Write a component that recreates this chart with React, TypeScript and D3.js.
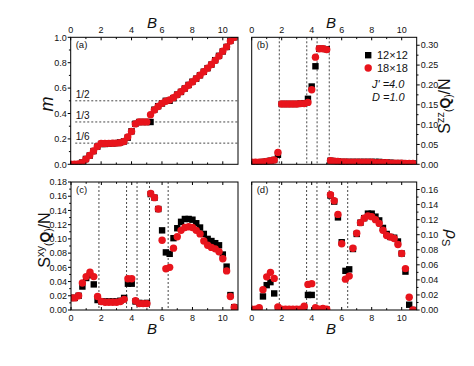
import React from "react";
import * as d3 from "d3";

const FONT = "Arial, 'Liberation Sans', Helvetica, sans-serif";
const RED = "#e8141c";

// Magnetic field grid (B)
const B_VALUES = [0, 0.25, 0.5, 0.75, 1.0, 1.25, 1.5, 1.75, 2.0, 2.25, 2.5, 2.75, 3.0, 3.25, 3.5, 3.75, 4.0, 4.25, 4.5, 4.75, 5.0, 5.25, 5.5, 5.75, 6.0, 6.25, 6.5, 6.75, 7.0, 7.25, 7.5, 7.75, 8.0, 8.25, 8.5, 8.75, 9.0, 9.25, 9.5, 9.75, 10.0, 10.25, 10.5, 10.75];

// (a) magnetization m
const M_12 = [0, 0, 0, 0.014, 0.042, 0.069, 0.104, 0.139, 0.16, 0.16, 0.163, 0.165, 0.167, 0.172, 0.18, 0.21, 0.26, 0.319, 0.333, 0.333, 0.333, 0.333, 0.43, 0.458, 0.479, 0.5, 0.5, 0.521, 0.549, 0.57, 0.597, 0.625, 0.65, 0.674, 0.701, 0.729, 0.757, 0.785, 0.82, 0.854, 0.889, 0.924, 0.972, 1.0];
const M_18 = [0, 0, 0.003, 0.012, 0.04, 0.07, 0.105, 0.14, 0.164, 0.164, 0.165, 0.166, 0.167, 0.17, 0.18, 0.215, 0.258, 0.318, 0.333, 0.334, 0.334, 0.39, 0.428, 0.455, 0.48, 0.497, 0.506, 0.525, 0.548, 0.572, 0.597, 0.623, 0.649, 0.675, 0.702, 0.729, 0.757, 0.786, 0.818, 0.852, 0.89, 0.925, 0.97, 1.0];
const M_LEVELS = [1 / 2, 1 / 3, 1 / 6];
const M_LEVEL_LABELS = ["1/2", "1/3", "1/6"];

// (b) Szz(Q)/N
const SZZ_12 = [0.005, 0.005, 0.005, 0.006, 0.007, 0.009, 0.011, 0.024, 0.152, 0.152, 0.152, 0.152, 0.152, 0.153, 0.154, 0.165, 0.196, 0.247, 0.291, 0.291, 0.29, 0.009, 0.008, 0.007, 0.006, 0.006, 0.006, 0.006, 0.006, 0.006, 0.006, 0.006, 0.006, 0.006, 0.006, 0.005, 0.004, 0.004, 0.003, 0.003, 0.003, 0.002, 0.002, 0.002];
const SZZ_18 = [0.005, 0.005, 0.005, 0.006, 0.007, 0.009, 0.011, 0.03, 0.152, 0.152, 0.152, 0.152, 0.152, 0.153, 0.153, 0.156, 0.188, 0.27, 0.291, 0.291, 0.289, 0.009, 0.008, 0.007, 0.006, 0.006, 0.005, 0.005, 0.005, 0.005, 0.005, 0.005, 0.005, 0.004, 0.004, 0.004, 0.004, 0.003, 0.003, 0.003, 0.003, 0.002, 0.002, 0.002];

// (c) Sxy(Q)/N
const SXY_12 = [0.017, 0.017, 0.02, 0.033, 0.045, 0.049, 0.036, 0.014, 0.012, 0.012, 0.012, 0.012, 0.012, 0.013, 0.017, 0.037, 0.037, 0.012, 0.01, 0.009, 0.01, 0.163, 0.158, 0.142, 0.112, 0.081, 0.079, 0.101, 0.115, 0.124, 0.128, 0.128, 0.127, 0.122, 0.116, 0.107, 0.1, 0.097, 0.094, 0.091, 0.078, 0.061, 0.021, 0.004];
const SXY_18 = [0.017, 0.017, 0.02, 0.038, 0.047, 0.053, 0.047, 0.019, 0.012, 0.011, 0.011, 0.011, 0.011, 0.012, 0.015, 0.044, 0.044, 0.013, 0.009, 0.009, 0.009, 0.164, 0.158, 0.142, 0.098, 0.058, 0.06, 0.087, 0.103, 0.112, 0.116, 0.117, 0.116, 0.112, 0.107, 0.097, 0.091, 0.088, 0.086, 0.082, 0.072, 0.055, 0.019, 0.004];

// (d) rho_s
const RHO_12 = [0, 0, 0, 0.018, 0.033, 0.037, 0.022, 0.002, 0, 0, 0, 0, 0, 0, 0, 0.02, 0.02, 0.001, 0, 0, 0, 0.152, 0.144, 0.123, 0.09, 0.052, 0.054, 0.081, 0.101, 0.116, 0.122, 0.128, 0.128, 0.124, 0.119, 0.109, 0.101, 0.097, 0.096, 0.091, 0.075, 0.051, 0.007, 0];
const RHO_18 = [0.001, 0.001, 0.003, 0.027, 0.044, 0.05, 0.042, 0.004, 0.001, 0.001, 0.001, 0.001, 0.001, 0.001, 0.005, 0.034, 0.035, 0.003, 0.001, 0.002, 0.001, 0.153, 0.145, 0.127, 0.088, 0.041, 0.045, 0.082, 0.102, 0.116, 0.122, 0.125, 0.124, 0.12, 0.115, 0.106, 0.099, 0.097, 0.095, 0.087, 0.075, 0.055, 0.017, 0];

// Transition fields (dotted vertical lines)
const VLINES_B = [1.84, 3.67, 4.36, 5.17];
const VLINES_CD = [1.84, 3.66, 4.35, 5.17, 6.4];

const X_TICKS = [0, 2, 4, 6, 8, 10];
const X_MINOR = [1, 3, 5, 7, 9];
const LEGEND_LABELS = ["12×12", "18×18"];

type Box = { x0: number; x1: number; y0: number; y1: number };

type PanelProps = {
  id: string;
  box: Box;
  yMax: number;
  yTicks: number[];
  yMinor: number[];
  yFmt: string;
  ySide: "left" | "right";
  xSide: "top" | "bottom";
  vlines?: number[];
  hlines?: number[];
  hlineLabels?: string[];
  black: number[];
  red: number[];
  letter: string;
};

function Panel(p: PanelProps) {
  const { box } = p;
  const x = d3.scaleLinear().domain([0, 11]).range([box.x0, box.x1]);
  const y = d3.scaleLinear().domain([0, p.yMax]).range([box.y1, box.y0]);
  const fmt = d3.format(p.yFmt);
  const yAxisX = p.ySide === "left" ? box.x0 : box.x1;
  const dir = p.ySide === "left" ? -1 : 1;
  return (
    <g>
      <defs>
        <clipPath id={p.id}>
          <rect x={box.x0} y={box.y0} width={box.x1 - box.x0} height={box.y1 - box.y0} />
        </clipPath>
      </defs>
      {(p.vlines || []).map((v, i) => (
        <line key={"v" + i} x1={x(v)} x2={x(v)} y1={box.y0} y2={box.y1} stroke="#333" strokeWidth={0.9} strokeDasharray="2,2" />
      ))}
      {(p.hlines || []).map((v, i) => (
        <g key={"h" + i}>
          <line x1={x(0.3)} x2={box.x1} y1={y(v)} y2={y(v)} stroke="#333" strokeWidth={0.9} strokeDasharray="2,2" />
          <text x={box.x0 + 5} y={y(v) - 3} fontSize={10} fontFamily={FONT} fill="#111">
            {p.hlineLabels ? p.hlineLabels[i] : ""}
          </text>
        </g>
      ))}
      <g clipPath={`url(#${p.id})`}>
        {p.black.map((v, i) => (
          <rect key={"k" + i} x={x(B_VALUES[i]) - 3.2} y={y(v) - 3.2} width={6.4} height={6.4} fill="#000" />
        ))}
        {p.red.map((v, i) => (
          <circle key={"r" + i} cx={x(B_VALUES[i])} cy={y(v)} r={3.7} fill={RED} />
        ))}
      </g>
      <rect x={box.x0} y={box.y0} width={box.x1 - box.x0} height={box.y1 - box.y0} fill="none" stroke="#000" strokeWidth={1} />
      {X_TICKS.map((t) => (
        <g key={"xt" + t}>
          <line x1={x(t)} x2={x(t)} y1={box.y0} y2={box.y0 + 3} stroke="#000" />
          <line x1={x(t)} x2={x(t)} y1={box.y1} y2={box.y1 - 3} stroke="#000" />
        </g>
      ))}
      {X_MINOR.map((t) => (
        <g key={"xm" + t}>
          <line x1={x(t)} x2={x(t)} y1={box.y0} y2={box.y0 + 1.8} stroke="#000" />
          <line x1={x(t)} x2={x(t)} y1={box.y1} y2={box.y1 - 1.8} stroke="#000" />
        </g>
      ))}
      {X_TICKS.map((t) => (
        <text
          key={"xl" + t}
          x={x(t)}
          y={p.xSide === "top" ? box.y0 - 4.5 : box.y1 + 10.5}
          textAnchor="middle"
          fontSize={9}
          fontFamily={FONT}
          fill="#111"
        >
          {t}
        </text>
      ))}
      {p.yTicks.map((t) => (
        <g key={"yt" + t}>
          <line x1={yAxisX} x2={yAxisX + dir * 3} y1={y(t)} y2={y(t)} stroke="#000" />
          <text
            x={yAxisX + dir * 4}
            y={y(t) + 3.2}
            textAnchor={p.ySide === "left" ? "end" : "start"}
            fontSize={9}
            fontFamily={FONT}
            fill="#111"
          >
            {fmt(t)}
          </text>
        </g>
      ))}
      {p.yMinor.map((t, i) => (
        <line key={"ym" + i} x1={yAxisX} x2={yAxisX + dir * 1.8} y1={y(t)} y2={y(t)} stroke="#000" />
      ))}
      <text x={box.x0 + 5} y={box.y0 + 11} fontSize={9.5} fontFamily={FONT} fill="#111">
        {p.letter}
      </text>
    </g>
  );
}

const PA: Box = { x0: 70.7, x1: 238, y0: 37.3, y1: 164.3 };
const PB: Box = { x0: 251.7, x1: 416.7, y0: 37.3, y1: 164.3 };
const PC: Box = { x0: 71, x1: 238, y0: 182, y1: 310 };
const PD: Box = { x0: 251.7, x1: 416.7, y0: 182, y1: 310 };

const A_TICKS = [0, 0.2, 0.4, 0.6, 0.8, 1.0];
const A_MINOR = [0.1, 0.3, 0.5, 0.7, 0.9];
const B_TICKS = [0, 0.05, 0.1, 0.15, 0.2, 0.25, 0.3];
const B_MINOR = [0.025, 0.075, 0.125, 0.175, 0.225, 0.275];
const C_TICKS = [0, 0.02, 0.04, 0.06, 0.08, 0.1, 0.12, 0.14, 0.16, 0.18];
const C_MINOR = [0.01, 0.03, 0.05, 0.07, 0.09, 0.11, 0.13, 0.15, 0.17];
const D_TICKS = [0, 0.02, 0.04, 0.06, 0.08, 0.1, 0.12, 0.14, 0.16];
const D_MINOR = [0.01, 0.03, 0.05, 0.07, 0.09, 0.11, 0.13, 0.15];

export default function App() {
  return (
    <svg width={474} height={366} style={{ position: "absolute", left: 0, top: 0, background: "#fff" }}>
      <rect x={0} y={0} width={474} height={366} fill="#fff" />
      <Panel id="ca" box={PA} yMax={1.0} yTicks={A_TICKS} yMinor={A_MINOR} yFmt=".1f" ySide="left" xSide="top"
        hlines={M_LEVELS} hlineLabels={M_LEVEL_LABELS} black={M_12} red={M_18} letter="(a)" />
      <Panel id="cb" box={PB} yMax={0.32} yTicks={B_TICKS} yMinor={B_MINOR} yFmt=".2f" ySide="right" xSide="top"
        vlines={VLINES_B} black={SZZ_12} red={SZZ_18} letter="(b)" />
      <Panel id="cc" box={PC} yMax={0.18} yTicks={C_TICKS} yMinor={C_MINOR} yFmt=".2f" ySide="left" xSide="bottom"
        vlines={VLINES_CD} black={SXY_12} red={SXY_18} letter="(c)" />
      <Panel id="cd" box={PD} yMax={0.17} yTicks={D_TICKS} yMinor={D_MINOR} yFmt=".2f" ySide="right" xSide="bottom"
        vlines={VLINES_CD} black={RHO_12} red={RHO_18} letter="(d)" />

      <text x={152} y={28} textAnchor="middle" fontSize={15} fontStyle="italic" fontFamily={FONT} fill="#111">B</text>
      <text x={331} y={28} textAnchor="middle" fontSize={15} fontStyle="italic" fontFamily={FONT} fill="#111">B</text>
      <text x={152} y={334} textAnchor="middle" fontSize={15} fontStyle="italic" fontFamily={FONT} fill="#111">B</text>
      <text x={331} y={334} textAnchor="middle" fontSize={15} fontStyle="italic" fontFamily={FONT} fill="#111">B</text>

      <text transform="translate(53,104) rotate(-90)" textAnchor="middle" fontSize={18} fontStyle="italic" fontFamily={FONT} fill="#111">m</text>

      <text transform="translate(50,240) rotate(-90)" textAnchor="middle" fontFamily={FONT} fill="#111" fontSize={16}>
        <tspan>S</tspan>
        <tspan fontSize={11} dy={-6}>xy</tspan>
        <tspan fontSize={10} dy={8}>(</tspan>
        <tspan fontSize={14} fontWeight="bold" dy={-2}>Q</tspan>
        <tspan fontSize={10} dy={2}>)</tspan>
        <tspan dy={-2}>/N</tspan>
      </text>

      <text transform="translate(450,106) rotate(-90)" textAnchor="middle" fontFamily={FONT} fill="#111" fontSize={16}>
        <tspan>S</tspan>
        <tspan fontSize={11} dy={-6}>zz</tspan>
        <tspan fontSize={10} dy={8}>(</tspan>
        <tspan fontSize={14} fontWeight="bold" dy={-2}>Q</tspan>
        <tspan fontSize={10} dy={2}>)</tspan>
        <tspan dy={-2}>/N</tspan>
      </text>

      <text transform="translate(446,238) rotate(90)" textAnchor="middle" fontFamily={FONT} fill="#111" fontSize={16}>
        <tspan fontStyle="italic">ρ</tspan>
        <tspan fontSize={11} dy={4}>S</tspan>
      </text>

      <rect x={365} y={52} width={6.4} height={6.4} fill="#000" />
      <text x={377} y={59} fontSize={11} fontFamily={FONT} fill="#111">{LEGEND_LABELS[0]}</text>
      <circle cx={368.2} cy={68} r={3.7} fill={RED} />
      <text x={377} y={72} fontSize={11} fontFamily={FONT} fill="#111">{LEGEND_LABELS[1]}</text>
      <text x={372} y={88} fontSize={11} fontStyle="italic" fontFamily={FONT} fill="#111">J' =4.0</text>
      <text x={372} y={101} fontSize={11} fontStyle="italic" fontFamily={FONT} fill="#111">D =1.0</text>
    </svg>
  );
}
